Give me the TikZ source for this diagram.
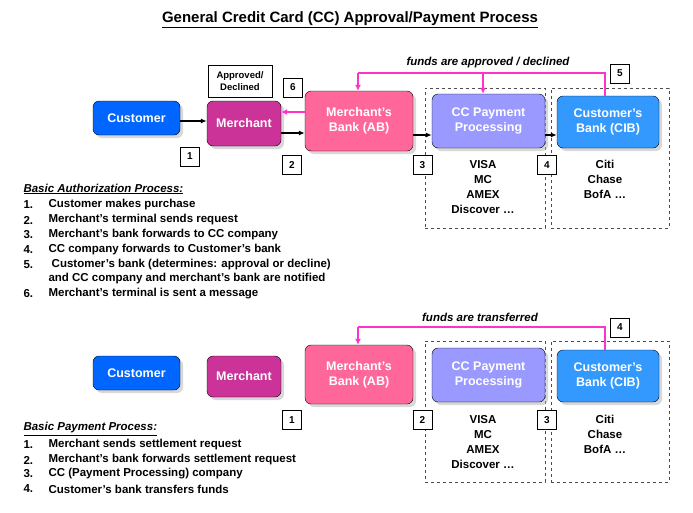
\documentclass[tikz,border=0pt]{standalone}
\usepackage{fontspec}
\setmainfont{Liberation Sans}
\usetikzlibrary{shadows,arrows.meta}
\definecolor{cblue}{HTML}{0066FF}
\definecolor{cmer}{HTML}{CC3399}
\definecolor{cmb}{HTML}{FF6699}
\definecolor{ccc}{HTML}{9999FF}
\definecolor{ccib}{HTML}{3399FF}
\definecolor{cpink}{HTML}{FF33CC}
\begin{document}
\begin{tikzpicture}[x=1pt,y=-1pt,
 box/.style={draw=black,thin,rounded corners=6pt,text=white,font=\fontsize{12.5}{15}\selectfont\bfseries,align=center,drop shadow={shadow xshift=3pt,shadow yshift=-3pt,fill=gray!60}},
 num/.style={draw=black,fill=white,minimum width=19pt,minimum height=19pt,inner sep=0pt,font=\fontsize{10}{12}\selectfont\bfseries},
 dbox/.style={draw=black!70,dashed,thin},
 lst/.style={anchor=west,font=\fontsize{11.5}{13}\selectfont\bfseries},
 co/.style={font=\fontsize{11.5}{15}\selectfont\bfseries,align=center,anchor=north},
 bar/.style={-{Latex[length=6pt,width=5pt]},line width=1.2pt},
 pk/.style={draw=cpink,line width=1.3pt}]
\useasboundingbox (0,0) rectangle (693,512);
\node[font=\fontsize{15}{17}\selectfont\bfseries] (title) at (350,20) {\underline{General Credit Card (CC) Approval/Payment Process}};
% ---------- top ----------
\node[dbox,minimum width=120pt,minimum height=140pt] (d1) at (485,158) {};
\node[dbox,minimum width=118pt,minimum height=140pt] (d2) at (610,158) {};
\node[box,fill=cblue,minimum width=87pt,minimum height=34pt] (cu) at (136.5,118) {Customer};
\node[box,fill=cmer,minimum width=74pt,minimum height=45pt] (me) at (244,123.5) {Merchant};
\node[box,fill=cmb,minimum width=108pt,minimum height=60pt] (mb) at (359,121) {Merchant's\\Bank (AB)};
\node[box,fill=ccc,minimum width=113pt,minimum height=54pt] (cc) at (488.5,121) {CC Payment\\Processing};
\node[box,fill=ccib,minimum width=102pt,minimum height=52pt] (cib) at (608,122) {Customer's\\Bank (CIB)};
\node[draw,fill=white,minimum width=64pt,minimum height=32pt,align=center,font=\fontsize{9.5}{12}\selectfont\bfseries,inner sep=1pt] (ad) at (240,81) {Approved/\\Declined};
\node[num] (n1) at (190,156.5) {1};
\node[num] (n2) at (292,165) {2};
\node[num] (n6) at (293,87.5) {6};
\node[num] (n3) at (422.5,165) {3};
\node[num] (n4) at (547,165) {4};
\node[num] (n5) at (620,73.5) {5};
\node[co] (v1) at (483,157) {VISA\\MC\\AMEX\\Discover …};
\node[co] (c1) at (605,157) {Citi\\Chase\\BofA …};
\node[font=\fontsize{11.5}{13}\selectfont\bfseries\itshape] (f1) at (488,63) {funds are approved / declined};
\coordinate (p1) at (605,73); \coordinate (p2) at (358,73); \coordinate (p3) at (483,73);
\draw[bar] (cu.east|-0,121) -- (me.west|-0,121);
\draw[bar] (me.east|-0,133) -- (mb.west|-0,133);
\draw[bar] (mb.east|-0,135) -- (cc.west|-0,135);
\draw[bar] (cc.east|-0,135) -- (cib.west|-0,135);
\draw[pk,-{Latex[length=6pt,width=6pt]}] (mb.west|-0,112) -- (me.east|-0,112);
\draw[pk] (cib.north-|p1) -- (p1) -- (p2);
\draw[pk,-{Latex[length=6pt,width=6pt]}] (p2) -- (mb.north-|p2);
\draw[pk,-{Latex[length=6pt,width=6pt]}] (p3) -- (cc.north-|p3);
\node[lst,font=\fontsize{11.5}{13}\selectfont\bfseries\itshape] (h1) at (20,189) {\underline{Basic Authorization Process:}};
\foreach \n/\t/\y in {1./Customer makes purchase/205,2./Merchant's terminal sends request/220,3./Merchant's bank forwards to CC company/235,4./CC company forwards to Customer's bank/250,5./{\ Customer's bank (determines: approval or decline)}/265,6./Merchant's terminal is sent a message/294}{
 \node[lst] at (20,\y) {\n}; \node[lst] at (45,\y) {\t};}
\node[lst] (a5) at (45,279) {and CC company and merchant's bank are notified};
% ---------- bottom ----------
\node[dbox,minimum width=120pt,minimum height=141pt] (d3) at (485,411.5) {};
\node[dbox,minimum width=118pt,minimum height=141pt] (d4) at (610,411.5) {};
\node[box,fill=cblue,minimum width=87pt,minimum height=34pt] (cu2) at (136.5,373) {Customer};
\node[box,fill=cmer,minimum width=74pt,minimum height=41pt] (me2) at (244,376.5) {Merchant};
\node[box,fill=cmb,minimum width=108pt,minimum height=59pt] (mb2) at (359,374.5) {Merchant's\\Bank (AB)};
\node[box,fill=ccc,minimum width=113pt,minimum height=54pt] (cc2) at (488.5,375) {CC Payment\\Processing};
\node[box,fill=ccib,minimum width=102pt,minimum height=52pt] (cib2) at (608,376) {Customer's\\Bank (CIB)};
\node[num] (m1) at (292,420) {1};
\node[num] (m2) at (422.5,420) {2};
\node[num] (m3) at (547,420) {3};
\node[num] (m4) at (620,327.5) {4};
\node[co] (v2) at (483,412) {VISA\\MC\\AMEX\\Discover …};
\node[co] (c2) at (605,412) {Citi\\Chase\\BofA …};
\node[font=\fontsize{11.5}{13}\selectfont\bfseries\itshape] (f2) at (480,317) {funds are transferred};
\coordinate (q1) at (605,327); \coordinate (q2) at (358,327);
\draw[pk] (cib2.north-|q1) -- (q1) -- (q2);
\draw[pk,-{Latex[length=6pt,width=6pt]}] (q2) -- (mb2.north-|q2);
\node[lst,font=\fontsize{11.5}{13}\selectfont\bfseries\itshape] (h2) at (20,429) {\underline{Basic Payment Process:}};
\foreach \n/\t/\y in {1./Merchant sends settlement request/445,2./Merchant's bank forwards settlement request/460,3./CC (Payment Processing) company/474,4./Customer's bank transfers funds/489}{
 \node[lst] at (20,\y) {\n}; \node[lst] at (45,\y) {\t};}
\end{tikzpicture}
\end{document}
